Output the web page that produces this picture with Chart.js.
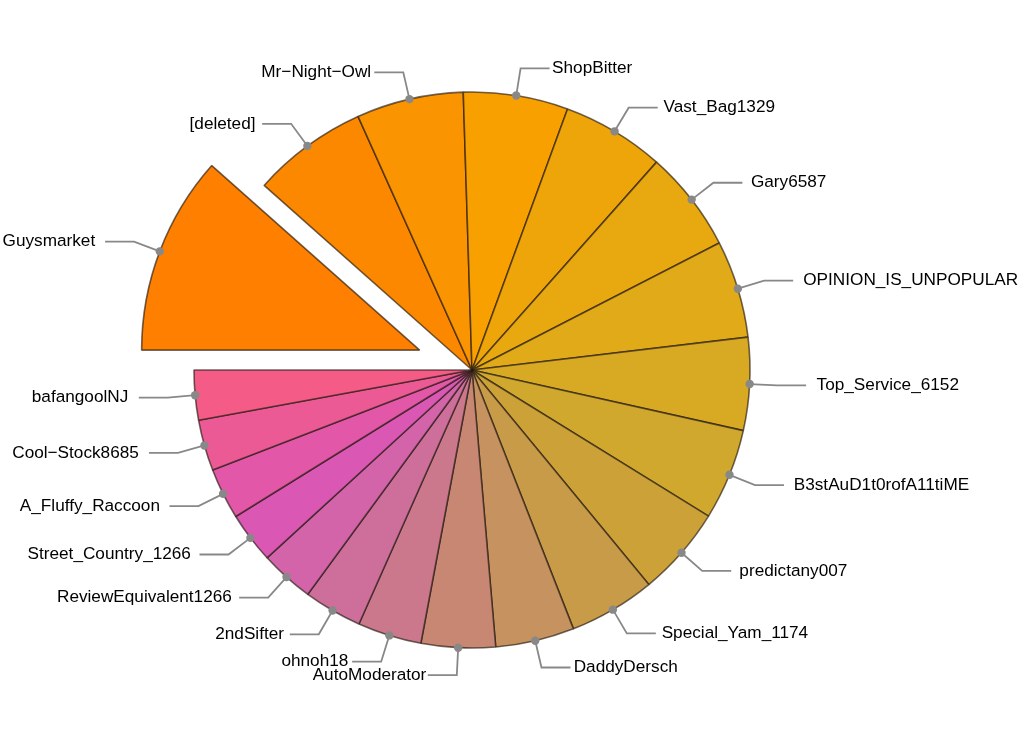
<!DOCTYPE html>
<html>
<head>
<meta charset="utf-8">
<script src="https://cdn.jsdelivr.net/npm/chart.js@4.4.1/dist/chart.umd.min.js"></script>
<style>
  html, body { margin: 0; padding: 0; background: #fff; }
  #wrap { width: 1024px; height: 745px; }
</style>
</head>
<body>
<div id="wrap"><canvas id="pie" width="1024" height="745"></canvas></div>
<script>
// users, clockwise from 9 o'clock
var users = ['Guysmarket', '[deleted]', 'Mr\u2212Night\u2212Owl', 'ShopBitter', 'Vast_Bag1329',
    'Gary6587', 'OPINION_IS_UNPOPULAR', 'Top_Service_6152', 'B3stAuD1t0rofA11tiME',
    'predictany007', 'Special_Yam_1174', 'DaddyDersch', 'AutoModerator', 'ohnoh18',
    '2ndSifter', 'ReviewEquivalent1266', 'Street_Country_1266', 'A_Fluffy_Raccoon',
    'Cool\u2212Stock8685', 'bafangoolNJ'];

// share of the pie
var shares = [41.6, 24.2, 22.4, 21.9, 21.5, 21.2, 20.4, 19.4, 19.1, 18.8,
    18.1, 16.5, 15.5, 13.4, 12.2, 11.3, 10.7, 10.7, 10.7, 10.4];

var sliceColors = ['#FF8000', '#FC8800', '#FA9400', '#F8A000', '#EEA50A',
    '#E8A80F', '#E1AA19', '#D8AA23', '#D0A82D', '#CCA238',
    '#C89B48', '#C6925F', '#C88773', '#CB788C', '#CD6E9B',
    '#D464AA', '#DA58B4', '#E357A8', '#EC5A96', '#F45C87'];

// draws the slices itself so one of them can be pulled out without growing
var explodePlugin = {
    id: 'explode',
    beforeDatasetsDraw: function (chart, args, opts) {
        var ctx = chart.ctx;
        var meta = chart.getDatasetMeta(0);
        meta.data.forEach(function (arc, i) {
            var d = i === opts.index ? opts.distance : 0;
            var mid = (arc.startAngle + arc.endAngle) / 2;
            ctx.save();
            ctx.translate(Math.cos(mid) * d, Math.sin(mid) * d);
            arc.draw(ctx);
            ctx.restore();
        });
        return false;
    }
};

// leader lines with a dot on the rim and the user name
var calloutPlugin = {
    id: 'callouts',
    afterDraw: function (chart, args, opts) {
        var ctx = chart.ctx;
        var meta = chart.getDatasetMeta(0);
        var ex = chart.options.plugins.explode;
        ctx.save();
        ctx.font = opts.font;
        ctx.textBaseline = 'middle';
        meta.data.forEach(function (arc, i) {
            var mid = (arc.startAngle + arc.endAngle) / 2;
            var cs = Math.cos(mid), sn = Math.sin(mid);
            var d = i === ex.index ? ex.distance : 0;
            var cx = arc.x + cs * d, cy = arc.y + sn * d;
            var r = arc.outerRadius;
            var px = cx + cs * r, py = cy + sn * r;
            var ex1 = cx + cs * (r + opts.radial), ey1 = cy + sn * (r + opts.radial);
            var side = cs >= 0 ? 1 : -1;
            var ex2 = ex1 + side * opts.run;

            ctx.strokeStyle = opts.lineColor;
            ctx.lineWidth = 1.8;
            ctx.beginPath();
            ctx.moveTo(px, py);
            ctx.lineTo(ex1, ey1);
            ctx.lineTo(ex2, ey1);
            ctx.stroke();

            ctx.fillStyle = opts.lineColor;
            ctx.beginPath();
            ctx.arc(px, py, 4.2, 0, Math.PI * 2);
            ctx.fill();

            var gap = 1 + 9.5 * Math.abs(cs);
            ctx.fillStyle = opts.color;
            ctx.textAlign = side > 0 ? 'left' : 'right';
            ctx.fillText(chart.data.labels[i], ex2 + side * gap, ey1);
        });
        ctx.restore();
    }
};

var ctx = document.getElementById('pie').getContext('2d');
var chart = new Chart(ctx, {
    type: 'pie',
    data: {
        labels: users,
        datasets: [{
            data: shares,
            backgroundColor: sliceColors,
            borderColor: 'rgba(35,25,15,0.65)',
            borderWidth: 1.6
        }]
    },
    options: {
        responsive: false,
        animation: false,
        rotation: 270,
        radius: 278,
        layout: {
            padding: { left: 0, right: 80, top: 0, bottom: 5 }
        },
        plugins: {
            legend: { display: false },
            tooltip: { enabled: false },
            explode: { index: 0, distance: 56 },
            callouts: {
                font: '17.2px "Liberation Sans", Arial, sans-serif',
                color: '#000',
                lineColor: '#888888',
                radial: 27.5,
                run: 29
            }
        }
    },
    plugins: [explodePlugin, calloutPlugin]
});
</script>
</body>
</html>
